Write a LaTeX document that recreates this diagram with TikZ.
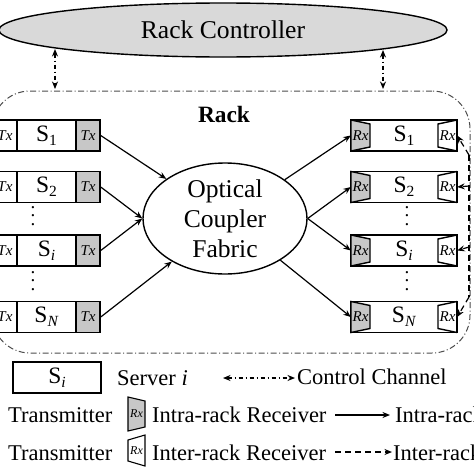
\documentclass[tikz,border=0pt]{standalone}
\usepackage{fontspec}
\setmainfont{Liberation Serif}
\usetikzlibrary{shapes.geometric,arrows.meta,calc}
\newcommand{\srvlabel}[1]{{\fontsize{23.5}{23.5}\selectfont S}\raisebox{-4pt}{\fontsize{15.5}{15.5}\selectfont #1}}
\begin{document}
\begin{tikzpicture}[x=1pt,y=-1pt,
  box/.style={draw, line width=1.5pt, inner sep=0pt, minimum height=31pt},
  txgray/.style={box, fill=black!22, minimum width=24pt, font=\fontsize{15}{15}\selectfont\itshape},
  txwhite/.style={box, minimum width=24pt, font=\fontsize{15}{15}\selectfont\itshape},
  rxlbl/.style={inner sep=0pt, minimum width=19pt, minimum height=31pt, font=\fontsize{15}{15}\selectfont\itshape},
  rxshape/.style={line width=1.4pt},
  arr/.style={-{Stealth[length=7.5pt,width=6pt]}, line width=1.2pt},
  darr/.style={arr, dash pattern=on 6pt off 4pt},
  carr/.style={{Stealth[length=7.5pt,width=6pt]}-{Stealth[length=7.5pt,width=6pt]}, line width=1.1pt, dash pattern=on 4pt off 3pt on 1pt off 3pt},
  lgd/.style={anchor=base west, inner sep=0pt, font=\fontsize{22.5}{22.5}\selectfont},
  dotsnode/.style={inner sep=0pt, align=center, font=\fontsize{19}{8.5}\selectfont}
]
\useasboundingbox (0,0) rectangle (474,474);
\clip (0,0) rectangle (474,474);

% Rack controller
\node[ellipse, draw, line width=1.4pt, fill=black!15, minimum width=448pt, minimum height=54pt, inner sep=0pt,
      font=\fontsize{25.6}{26}\selectfont] (rc) at (223,30) {Rack Controller};

% Rack boundary
\node[draw=black!70, line width=1pt, rounded corners=38pt, dash pattern=on 6pt off 2.5pt on 1pt off 2.5pt,
      minimum width=478pt, minimum height=262pt, inner sep=0pt] (rack) at (231,222) {};
\node[font=\bfseries\fontsize{23.4}{24}\selectfont] (racklbl) at (224,114) {Rack};

% control channels
\coordinate (c1a) at (55,49);
\coordinate (c1b) at (55,89);
\coordinate (c2a) at (383,50);
\coordinate (c2b) at (383,89);
\draw[carr] (c1a) -- (c1b);
\draw[carr] (c2a) -- (c2b);

% optical coupler fabric
\node[ellipse, draw, line width=1.4pt, minimum width=164pt, minimum height=111pt, inner sep=0pt, align=center,
      font=\fontsize{25.6}{30}\selectfont] (ocf) at (225,218.5) {Optical\\Coupler\\Fabric};

% servers
\foreach \y/\s/\n in {135.5/1/1, 187/2/2, 250.5/\textit{i}/i, 317/\textit{N}/N}{
  % left
  \node[txwhite] (txl\n) at (5,\y) {Tx};
  \node[box, minimum width=59pt] (sl\n) at (46.5,\y) {\srvlabel{\s}};
  \node[txgray] (tx\n) at (88,\y) {Tx};
  % right
  \node[box, minimum width=106pt] (sr\n) at (404,\y) {};
  \filldraw[rxshape, fill=black!22] (351,\y-15.5) -- (370,\y-11.5) -- (370,\y+11.5) -- (351,\y+15.5) -- cycle;
  \draw[rxshape] (457,\y-15.5) -- (438,\y-11.5) -- (438,\y+11.5) -- (457,\y+15.5);
  \node[rxlbl] (rg\n) at (360.5,\y) {Rx};
  \node[rxlbl] (rw\n) at (447.5,\y) {Rx};
  \node[inner sep=0pt] (srl\n) at (404,\y) {\srvlabel{\s}};
}

% dots
\node[dotsnode] (dl1) at (33,216) {.\\.\\.};
\node[dotsnode] (dl2) at (33,281) {.\\.\\.};
\node[dotsnode] (dr1) at (407,216) {.\\.\\.};
\node[dotsnode] (dr2) at (407,281) {.\\.\\.};

% intra-rack links
\draw[arr] (tx1.east) -- (ocf.146);
\draw[arr] (tx2.east) -- (ocf.west);
\draw[arr] (txi.east) -- (ocf.west);
\draw[arr] (txN.east) -- (ocf.219);
\draw[arr] (ocf.33) -- (rg1.west);
\draw[arr] (ocf.east) -- (rg2.west);
\draw[arr] (ocf.east) -- (rgi.west);
\draw[arr] (ocf.-37) -- (rgN.west);

% inter-rack links
\coordinate (ir1) at (469,155);
\coordinate (ir2) at (469,186);
\coordinate (iri) at (469,247);
\coordinate (irN) at (469,297);
\draw[line width=1.1pt, dash pattern=on 6pt off 4pt] (ir1) -- (irN);
\draw[darr] (ir1) -- (rw1.east);
\draw[darr] (ir2) -- (rw2.east);
\draw[darr] (iri) -- (rwi.east);
\draw[darr] (irN) -- (rwN.east);

% legend
\node[box, minimum width=88pt] (lgs) at (57,377.5) {\srvlabel{\textit{i}}};
\node[lgd] (lgserver) at (117,385) {Server \textit{i}};
\coordinate (lca) at (223,378);
\coordinate (lcb) at (295,378);
\draw[carr] (lca) -- (lcb);
\node[lgd] (lgctrl) at (297,384) {Control Channel};

\node[lgd] (lgtx1) at (8,422) {Transmitter};
\filldraw[line width=1.1pt, fill=black!22] (128,397) -- (145,401) -- (145,427) -- (128,431) -- cycle;
\node[inner sep=0pt, font=\fontsize{12}{12}\selectfont\itshape] (lgrx1) at (136.5,414) {Rx};
\node[lgd] (lgintra) at (152,422) {Intra-rack Receiver};
\coordinate (lsa) at (335,415);
\coordinate (lsb) at (390,415);
\draw[arr] (lsa) -- (lsb);
\node[lgd] (lgintrach) at (395,422) {Intra-rack};

\node[lgd] (lgtx2) at (8,460) {Transmitter};
\draw[line width=1.1pt] (128,440) -- (145,435) -- (145,466) -- (128,461) -- cycle;
\node[inner sep=0pt, font=\fontsize{12}{12}\selectfont\itshape] (lgrx2) at (136.5,451) {Rx};
\node[lgd] (lginter) at (152,460) {Inter-rack Receiver};
\coordinate (lda) at (335,452);
\coordinate (ldb) at (392,452);
\draw[darr] (lda) -- (ldb);
\node[lgd] (lginterch) at (393,460) {Inter-rack};
\end{tikzpicture}
\end{document}
